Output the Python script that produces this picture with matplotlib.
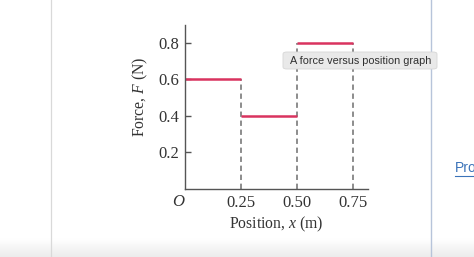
import numpy as np
import matplotlib.pyplot as plt
from matplotlib.patches import FancyBboxPatch
from matplotlib.lines import Line2D

plt.rcParams['font.family'] = 'Liberation Serif'
plt.rcParams['mathtext.fontset'] = 'custom'
plt.rcParams['mathtext.rm'] = 'Liberation Serif'
plt.rcParams['mathtext.it'] = 'Liberation Serif:italic'

# step force data
x_start = [0.0, 0.25, 0.50]
x_end = [0.25, 0.50, 0.75]
force = [0.6, 0.4, 0.8]
dash_x = [0.25, 0.50, 0.75]
dash_top = [0.6, 0.8, 0.8]
x_ticks = [0.25, 0.50, 0.75]
x_labels = ['0.25', '0.50', '0.75']
y_ticks = [0.2, 0.4, 0.6, 0.8]
y_labels = ['0.2', '0.4', '0.6', '0.8']

fig = plt.figure(figsize=(4.74, 2.57), dpi=100)
fig.patch.set_facecolor('white')

# faint page shading at the bottom
bg = fig.add_axes([0, 0, 1, 19/257], zorder=-5)
grad = np.linspace(1.0, 0.925, 50).reshape(-1, 1)
bg.imshow(grad, aspect='auto', cmap='gray', vmin=0, vmax=1, extent=(0, 1, 1, 0))
bg.axis('off')

ax = fig.add_axes([185/474, 1 - 189/257, 183/474, 164/257])
ax.patch.set_alpha(0)
ax.set_xlim(0, 0.817)
ax.set_ylim(0, 0.896)

ax.vlines(dash_x, 0, dash_top, colors='#6e6e6e', linewidth=1.1,
          linestyles=(0, (3.5, 2.4)), zorder=1)
ax.hlines(force, x_start, x_end, colors='#d9335f', linewidth=1.8, zorder=2)

for s in ['top', 'right']:
    ax.spines[s].set_visible(False)
for s in ['left', 'bottom']:
    ax.spines[s].set_color('#555555')
    ax.spines[s].set_linewidth(1.0)

ax.set_xticks(x_ticks)
ax.set_xticklabels(x_labels)
ax.set_yticks(y_ticks)
ax.set_yticklabels(y_labels)
ax.tick_params(axis='x', length=0, pad=4, labelsize=12, colors='#333333')
ax.tick_params(axis='y', direction='in', length=4, width=1, pad=4,
               labelsize=12, colors='#333333', color='#555555')
ax.text(-0.03, -0.03, 'O', style='italic', fontsize=12, color='#333333',
        ha='center', va='top')

ax.set_xlabel('Position, $x$ (m)', fontsize=11.3, color='#333333', labelpad=3)
ax.set_ylabel('Force, $F$ (N)', fontsize=11.3, color='#333333')
ax.yaxis.set_label_coords(-0.19, 0.565)

# page dividers and link
fig.lines.append(Line2D([51/474, 51/474], [0, 1], transform=fig.transFigure,
                        color='#d9d9d9', linewidth=0.9, zorder=3))
fig.lines.append(Line2D([431/474, 431/474], [0, 1], transform=fig.transFigure,
                        color='#b7c4da', linewidth=1.0, zorder=3))
fig.text(455/474, 1 - 168/257, 'Pro', family='Liberation Sans', fontsize=10,
         color='#3b73b9', ha='left', va='center')
fig.lines.append(Line2D([455/474, 1], [1 - 176/257, 1 - 176/257], transform=fig.transFigure,
                        color='#3b73b9', linewidth=0.8))

# tooltip
fig.patches.append(FancyBboxPatch((283/474, 1 - 69/257), 154/474, 17/257,
                                  boxstyle='round,pad=0,rounding_size=0.008',
                                  transform=fig.transFigure, facecolor='#e9e9e9',
                                  edgecolor='#d6d6d6', linewidth=0.6, zorder=5))
fig.text(360.5/474, 1 - 60.5/257, 'A force versus position graph', family='Liberation Sans',
         fontsize=7.8, color='#303030', ha='center', va='center', zorder=6)

fig.savefig('out.png', dpi=100)
